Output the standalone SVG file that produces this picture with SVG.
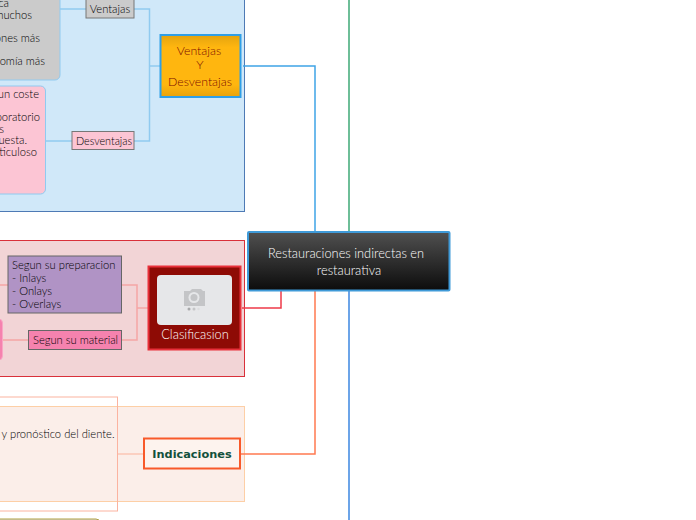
<svg xmlns="http://www.w3.org/2000/svg" width="696" height="520" viewBox="0 0 696 520">
<style>
text{font-family:"Lato","Liberation Sans",sans-serif;font-weight:300;font-size:11.200px;fill:#000}
.c{fill:none;stroke-width:1.5}
.b{stroke:#90caf0}
.p{stroke:#f5a5a5}
.m{text-anchor:middle}
.e{text-anchor:end}
.vd{fill:#7a0c00;font-size:12.300px}
.w{fill:#fff;font-size:12.800px}
</style>
<defs>
<linearGradient id="dk" x1="0" y1="0" x2="0" y2="1"><stop offset="0" stop-color="#505050"/><stop offset="1" stop-color="#0c0c0c"/></linearGradient>
<linearGradient id="or" x1="0" y1="0" x2="0" y2="1"><stop offset="0" stop-color="#e3a30f"/><stop offset=".2" stop-color="#ffb60f"/><stop offset=".8" stop-color="#ffb60f"/><stop offset="1" stop-color="#e8a20c"/></linearGradient>
</defs>
<g id="regions">
<rect x="-5" y="-5" width="249.500" height="216.500" fill="#d0e8f9" stroke="#4e7ab5" stroke-width="1"/>
<rect x="-5" y="240.500" width="249.500" height="136" fill="#f2d4d6" stroke="#d9303a" stroke-width="1"/>
<rect x="-5" y="406.500" width="249.500" height="95" fill="#fbeee9" stroke="#fdcfa6" stroke-width="1"/>
</g>
<g id="connectors" fill="none">
<path d="M243 66H315V232" stroke="#3fa4e6" stroke-width="1.500"/>
<path d="M349 0V232" stroke="#3ea876" stroke-width="1.500"/>
<path d="M349 291V520" stroke="#3b86e0" stroke-width="1.500"/>
<path d="M315 291V454H240" stroke="#ff7a50" stroke-width="1.500"/>
<path d="M281 291V308H242" stroke="#ee3a48" stroke-width="1.500"/>
<path d="M160 66H149.500V9H134M149.500 66V141H134" class="c b"/>
<path d="M86 9H60M72 141H46" class="c b"/>
<path d="M148 308H137V285H122M137 308V340H122M28 340H3M8 285H0" class="c p"/>
<path d="M144 454H118" fill="none" stroke="#fbc6b4" stroke-width="1.500"/>
</g>
<g id="node-grey">
<rect x="-20" y="-10" width="80" height="90" rx="5" fill="#cbcbcb" stroke="#90caf0"/>
<text x="9" y="7" class="e">ca</text>
<text x="32" y="19" class="e">muchos</text>
<text x="40" y="42" class="e">ones más</text>
<text x="45" y="65" class="e">tomía más</text>
</g>
<g id="node-pink">
<rect x="-20" y="86" width="65.500" height="108" rx="5" fill="#fcc5d4" stroke="#90caf0"/>
<text x="39" y="98" class="e">: un coste</text>
<text x="40" y="121" class="e">iboratorio</text>
<text x="4" y="133" class="e">s</text>
<text x="27" y="144" class="e">puesta.</text>
<text x="37" y="156" class="e">eticuloso</text>
</g>
<g id="node-ventajas">
<rect x="86" y="-3" width="48" height="21" fill="#cbcbcb" stroke="#777"/>
<text x="110" y="13" class="m">Ventajas</text>
</g>
<g id="node-desventajas">
<rect x="72" y="131.500" width="62" height="18" fill="#fcc5d4" stroke="#777"/>
<text x="104" y="145" class="m" style="font-size:10.800px">Desventajas</text>
</g>
<g id="node-vd">
<rect x="160.500" y="35" width="80" height="62" fill="url(#or)" stroke="#2f9fe8" stroke-width="2"/>
<text x="199" y="55" class="m vd">Ventajas</text>
<text x="200" y="69" class="m vd">Y</text>
<text x="200" y="86" class="m vd">Desventajas</text>
</g>
<g id="node-root">
<rect x="248" y="232" width="201.500" height="58.500" rx="1" fill="url(#dk)" stroke="#3f9ad8" stroke-width="2"/>
<text x="346" y="258" class="m w">Restauraciones indirectas en</text>
<text x="349" y="275" class="m w">restaurativa</text>
</g>
<g id="node-prep">
<rect x="8" y="256" width="113.500" height="57" fill="#b093c5" stroke="#666"/>
<text x="12" y="269">Segun su preparacion</text>
<text x="12" y="282">- Inlays</text>
<text x="12" y="295">- Onlays</text>
<text x="12" y="308">- Overlays</text>
</g>
<g id="node-material">
<rect x="28.500" y="330.500" width="93" height="19" fill="#f582ae" stroke="#666"/>
<text x="75.500" y="344" class="m">Segun su material</text>
</g>
<g id="node-pink2">
<rect x="-20" y="319" width="22.500" height="41" rx="4" fill="#f582ae" stroke="#f9a5c5"/>
</g>
<g id="node-clasificacion">
<rect x="148.500" y="266.500" width="92" height="83" fill="#8e0b05" stroke="#e8303a" stroke-width="2"/>
<rect x="157" y="275" width="75" height="50" rx="4" fill="#e6e7e9"/>
<path d="M184 291h6l2-2h9l2 2h2v15h-21z" fill="#c4c5c7"/>
<circle cx="194" cy="297.500" r="5.500" fill="#e6e7e9"/><circle cx="194" cy="297.500" r="3.500" fill="#c4c5c7"/>
<circle cx="189" cy="309" r="1.500" fill="#a8a9ab"/><circle cx="194" cy="309" r="1.500" fill="#c4c5c7"/><circle cx="198.500" cy="309" r="1.200" fill="#dcdcde"/>
<text x="195" y="339" class="m w">Clasificasion</text>
</g>
<g id="node-diag">
<rect x="-20" y="397" width="137.500" height="114" fill="none" stroke="#fbb3a0" stroke-width="1"/>
<text x="114.500" y="438" class="e">y pronóstico del diente.</text>
</g>
<g id="node-indicaciones">
<rect x="144" y="438.500" width="96" height="30" fill="#fdf3ee" stroke="#f8592a" stroke-width="2"/>
<text x="192" y="458" class="m" style="font-family:'DejaVu Sans',sans-serif;font-weight:bold;font-size:11.300px;fill:#12503c">Indicaciones</text>
</g>
<g id="node-bottom">
<rect x="-20" y="519" width="120" height="10" rx="4" fill="#d9d9d9" stroke="#b0a040"/>
</g>
</svg>
